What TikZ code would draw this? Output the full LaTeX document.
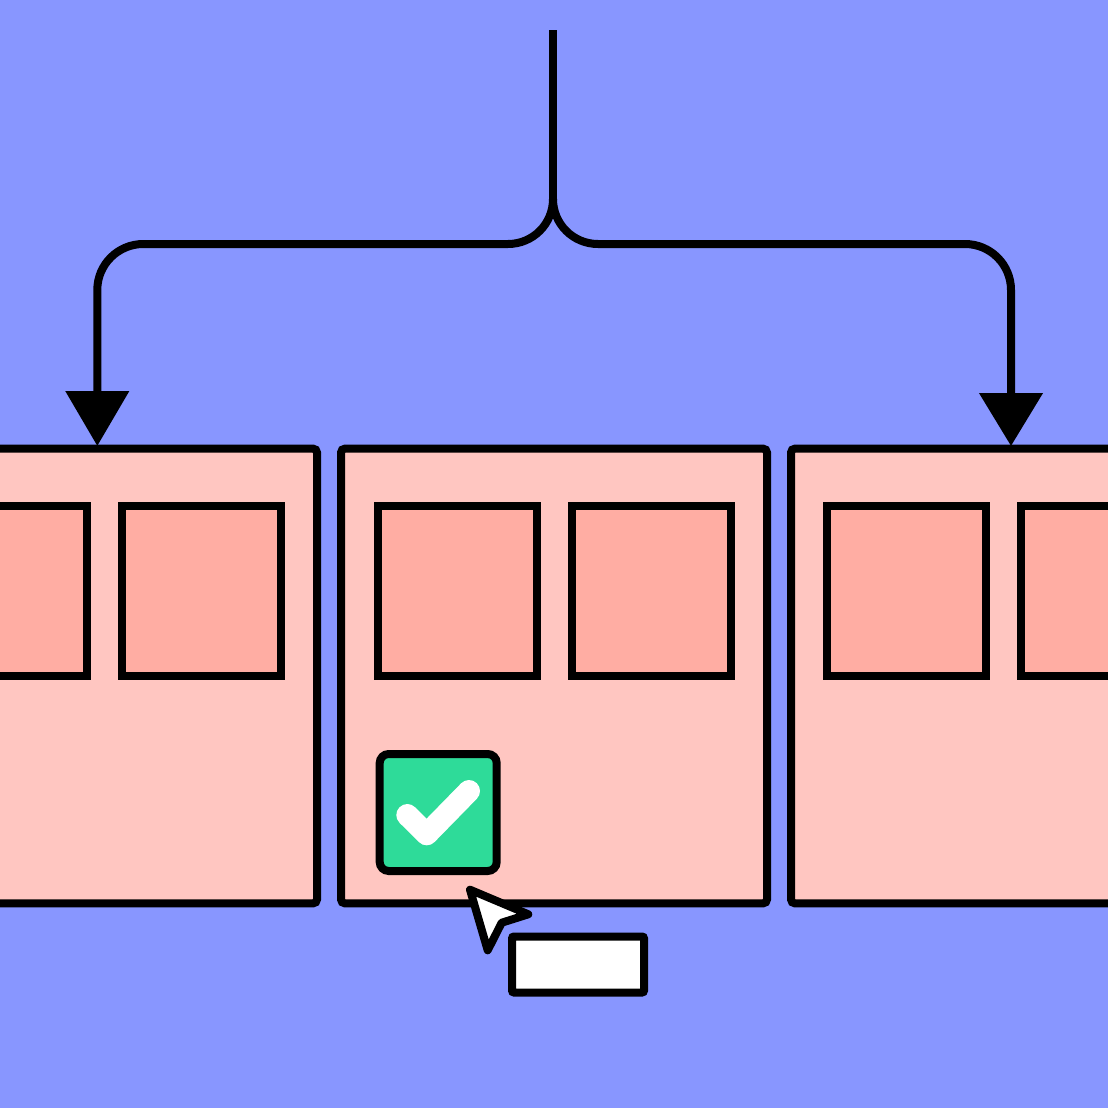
\documentclass[tikz,border=0pt]{standalone}
\usetikzlibrary{arrows.meta}
\definecolor{bgblue}{HTML}{8896FF}
\definecolor{panelpink}{HTML}{FFC6C1}
\definecolor{squarepink}{HTML}{FFADA3}
\definecolor{checkgreen}{HTML}{2EDB99}
\tikzset{
  ink/.style={line width=4pt,draw=black,line join=miter},
  panel/.style={ink,fill=panelpink,rectangle,rounded corners=2pt,inner sep=0pt,outer sep=0pt,minimum width=213pt,minimum height=227.4pt},
  tile/.style={ink,fill=squarepink,rectangle,inner sep=0pt,outer sep=0pt,minimum width=79.5pt,minimum height=85pt},
  checkbox/.style={ink,fill=checkgreen,rectangle,rounded corners=4.5pt,inner sep=0pt,outer sep=0pt,minimum width=58.5pt,minimum height=58.5pt},
  caption/.style={ink,fill=white,rectangle,rounded corners=1pt,inner sep=0pt,outer sep=0pt,minimum width=66pt,minimum height=28pt},
  wire/.style={ink},
  tickmark/.style={draw=white,line width=11pt,line cap=round,line join=round},
  pointer/.style={ink,fill=white,line join=round}
}
\begin{document}
\begin{tikzpicture}[x=0.5pt,y=-0.5pt]
\useasboundingbox (0,0) rectangle (1108,1108);
\clip (0,0) rectangle (1108,1108);
\fill[bgblue] (0,0) rectangle (1108,1108);

% panels
\node[panel] (panelL) at (104,676) {};
\node[panel] (panelC) at (554,676) {};
\node[panel] (panelR) at (1004,676) {};

% tiles
\node[tile] (tileL1) at (7.5,591) {};
\node[tile] (tileL2) at (201.5,591) {};
\node[tile] (tileC1) at (457.5,591) {};
\node[tile] (tileC2) at (651.5,591) {};
\node[tile] (tileR1) at (906.5,591) {};
\node[tile] (tileR2) at (1100.5,591) {};

% check box
\node[checkbox] (check) at (438.2,812.5) {};
\coordinate (tickA) at (407.3,815);
\coordinate (tickB) at (426.7,834.3);
\coordinate (tickC) at (469,791);
\draw[tickmark] (tickA) -- (tickB) -- (tickC);

% caption box and pointer
\node[caption] (label) at (578,964.5) {};
\draw[pointer] (470,889.7) -- (528.3,914.3) -- (501.7,922.7) -- (487.7,950.3) -- cycle;

% connectors
\coordinate (trunk) at (553,30);
\coordinate (fork) at (553,199);
\coordinate (hitL) at (97.3,446);
\coordinate (hitR) at (1011,446);
\draw[wire] (trunk) -- (fork);
\draw[wire,-{Triangle[length=27.5pt,width=31pt]}] (fork)
  .. controls (553,223.9) and (532.9,244) .. (508,244)
  -- (143.3,244)
  .. controls (117.9,244) and (97.3,264.6) .. (97.3,290)
  -- (hitL);
\draw[wire,-{Triangle[length=26.5pt,width=31pt]}] (fork)
  .. controls (553,223.9) and (573.1,244) .. (598,244)
  -- (965,244)
  .. controls (990.4,244) and (1011,264.6) .. (1011,290)
  -- (hitR);
\end{tikzpicture}
\end{document}
